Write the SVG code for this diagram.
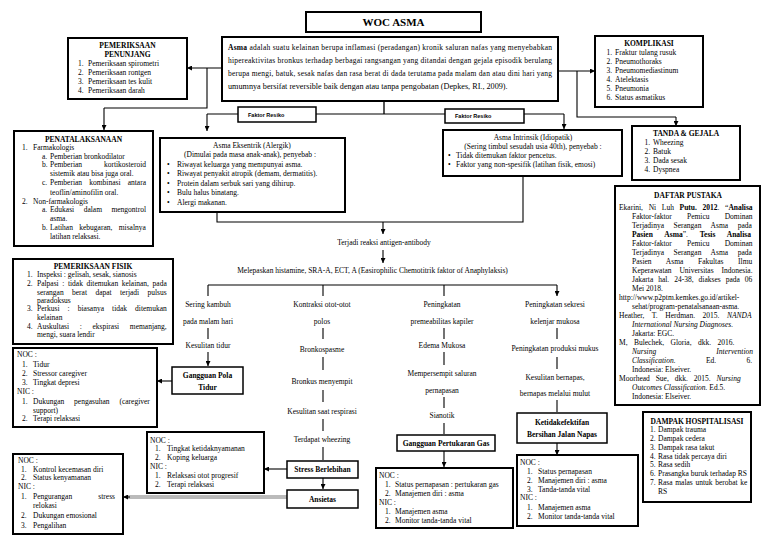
<svg xmlns="http://www.w3.org/2000/svg" width="768" height="543" viewBox="0 0 768 543">
<style>
text{font-family:"Liberation Serif","Times New Roman",serif;font-size:7.5px;fill:#000}
.b{font-weight:bold}
.i{font-style:italic}
.m{text-anchor:middle}
.e{text-anchor:end}
.h{font-weight:bold;text-anchor:middle}
.d{font-size:8px}
.fr{font-family:"Liberation Sans",Arial,sans-serif;font-weight:bold;font-size:5.5px}
.box{fill:#fff;stroke:#000;stroke-width:2}
.sb{fill:#fff;stroke:#000;stroke-width:1.5}
.ln{fill:none;stroke:#000;stroke-width:1.1}
.ar{fill:none;stroke:#000;stroke-width:1.1;marker-end:url(#ah)}
</style>
<defs>
<marker id="ah" viewBox="0 0 6 6" refX="6" refY="3" markerWidth="5" markerHeight="5" markerUnits="userSpaceOnUse" orient="auto"><path d="M0,0L6,3L0,6z" fill="#000"/></marker>
</defs>
<rect width="768" height="543" fill="#fff"/>

<g id="connectors">
<path class="ar" d="M222,68H187"/>
<path class="ln" d="M207,68V108H104"/>
<path class="ar" d="M104,108V130"/>
<path class="ln" d="M384,101V114" style="stroke-width:2;stroke:#555"/>
<path class="ln" d="M207,114H238M316,114H445M524,114H564"/>
<path class="ar" d="M207,114V131"/>
<path class="ar" d="M564,114V129"/>
<path class="ar" d="M558,71H595"/>
<path class="ln" d="M577,71V117H676"/>
<path class="ar" d="M676,117V126"/>
<path class="ln" d="M217,212V222H523V176"/>
<path class="ar" d="M383,222V234"/>
<path class="ar" d="M383,250V263"/>
<path class="ln" d="M208,285H557"/>
<path class="ar" d="M208,285V296M323,285V296M444,285V296M557,285V296"/>
<path class="ar" d="M208,328V339M208,352V366"/>
<path class="ar" d="M323,328V339M323,357V370M323,390V402M323,419V431M323,447V460M323,478V489"/>
<path class="ar" d="M444,328V339M444,352V365M444,397V408M444,423V434M444,451V467"/>
<path class="ar" d="M557,328V339M557,357V369M557,400V412M557,443V455"/>
<path class="ar" d="M172,381H157"/>
<path class="ar" d="M287,469H264"/>
<path d="M287,496H127M287,498H127" fill="none" stroke="#666" stroke-width="0.9"/>
<path class="ar" d="M130,497H123"/>
</g>

<g id="title">
<rect class="box" x="306" y="12" width="175" height="20"/>
<text class="h" x="393.5" y="26" style="font-size:11px">WOC ASMA</text>
</g>

<g id="asma-def">
<rect class="box" x="222" y="37" width="336" height="64"/>
<text x="228" y="49.5" textLength="324" lengthAdjust="spacing"><tspan class="b">Asma</tspan> adalah suatu kelainan berupa inflamasi (peradangan) kronik saluran nafas yang menyebabkan</text>
<text x="228" y="62.5" textLength="324" lengthAdjust="spacing">hipereaktivitas bronkus terhadap berbagai rangsangan yang ditandai dengan gejala episodik berulang</text>
<text x="228" y="75.5" textLength="324" lengthAdjust="spacing">berupa mengi, batuk, sesak nafas dan rasa berat di dada terutama pada malam dan atau dini hari yang</text>
<text x="228" y="88.5" style="font-size:8.2px">umumnya bersifat reversible baik dengan atau tanpa pengobatan (Depkes, RI., 2009).</text>
</g>

<g id="pemeriksaan-penunjang">
<rect class="box" x="68" y="38" width="119" height="61"/>
<text class="h" x="127.5" y="48">PEMERIKSAAN</text>
<text class="h" x="127.5" y="57">PENUNJANG</text>
<text x="78" y="65.5">1.</text><text x="88" y="65.5">Pemeriksaan spirometri</text>
<text x="78" y="74.5">2.</text><text x="88" y="74.5">Pemeriksaan rontgen</text>
<text x="78" y="83.5">3.</text><text x="88" y="83.5">Pemeriksaan tes kulit</text>
<text x="78" y="92.5">4.</text><text x="88" y="92.5">Pemeriksaan darah</text>
</g>

<g id="komplikasi">
<rect class="box" x="595" y="36" width="108" height="71"/>
<text class="h" x="649" y="46">KOMPLIKASI</text>
<text x="606.5" y="54.5">1.</text><text x="615" y="54.5">Fraktur tulang rusuk</text>
<text x="606.5" y="63.5">2.</text><text x="615" y="63.5">Pneumothoraks</text>
<text x="606.5" y="72.5">3.</text><text x="615" y="72.5">Pneumomediastinum</text>
<text x="606.5" y="81.5">4.</text><text x="615" y="81.5">Atelektasis</text>
<text x="606.5" y="90.5">5.</text><text x="615" y="90.5">Pneumonia</text>
<text x="606.5" y="99.5">6.</text><text x="615" y="99.5">Status asmatikus</text>
</g>

<g id="tanda-gejala">
<rect class="box" x="632" y="126" width="108" height="54"/>
<text class="h" x="686" y="136">TANDA &amp; GEJALA</text>
<text x="644.5" y="144.5">1.</text><text x="653" y="144.5">Wheezing</text>
<text x="644.5" y="153.5">2.</text><text x="653" y="153.5">Batuk</text>
<text x="644.5" y="162.5">3.</text><text x="653" y="162.5">Dada sesak</text>
<text x="644.5" y="171.5">4.</text><text x="653" y="171.5">Dyspnea</text>
</g>

<g id="faktor-resiko-1">
<rect class="sb" x="238" y="107" width="78" height="15"/>
<text class="fr" x="248" y="116.5">Faktor Resiko</text>
</g>
<g id="faktor-resiko-2">
<rect class="sb" x="445" y="109" width="79" height="14"/>
<text class="fr" x="455" y="118">Faktor Resiko</text>
</g>

<g id="penatalaksanaan">
<rect class="box" x="14" y="131" width="139" height="115"/>
<text class="h" x="83.5" y="142">PENATALAKSANAAN</text>
<text x="22" y="149.5">1.</text><text x="33" y="149.5">Farmakologis</text>
<text x="42" y="158.5">a.</text><text x="50" y="158.5">Pemberian bronkodilator</text>
<text x="42" y="167">b.</text><text x="50" y="167">Pemberian</text><text class="e" x="146" y="167">kortikosteroid</text>
<text x="50" y="175.5">sistemik atau bisa juga oral.</text>
<text x="42" y="185">c.</text><text x="50" y="185" style="word-spacing:5.3px">Pemberian kombinasi antara</text>
<text x="50" y="194.5">teoflin/aminofilin oral.</text>
<text x="22" y="203.5">2.</text><text x="33" y="203.5">Non-farmakologis</text>
<text x="42" y="212">a.</text><text x="50" y="212" style="word-spacing:7.6px">Edukasi dalam mengontrol</text>
<text x="50" y="220.5">asma.</text>
<text x="42" y="229.5">b.</text><text x="50" y="229.5" style="word-spacing:4.5px">Latihan kebugaran, misalnya</text>
<text x="50" y="238.5">latihan relaksasi.</text>
</g>

<g id="asma-eksentrik">
<rect class="box" x="160" y="138" width="185" height="74"/>
<text class="m" x="252" y="147.5">Asma Eksentrik (Alergik)</text>
<text class="m" x="250" y="157">(Dimulai pada masa anak-anak), penyebab :</text>
<text x="167" y="166.5">•</text><text x="177" y="166.5">Riwayat keluarga yang mempunyai asma.</text>
<text x="167" y="176">•</text><text x="177" y="176">Riwayat penyakit atropik (demam, dermatitis).</text>
<text x="167" y="185.5">•</text><text x="177" y="185.5">Protein dalam serbuk sari yang dihirup.</text>
<text x="167" y="195">•</text><text x="177" y="195">Bulu halus binatang.</text>
<text x="167" y="204.5">•</text><text x="177" y="204.5">Alergi makanan.</text>
</g>

<g id="asma-intrinsik">
<rect class="box" x="443" y="130" width="179" height="46"/>
<text class="m" x="533" y="140">Asma Intrinsik (Idiopatik)</text>
<text class="m" x="533" y="149">(Sering timbul sesudah usia 40th), penyebab :</text>
<text x="448" y="158">•</text><text x="456" y="158">Tidak ditemukan faktor pencetus.</text>
<text x="448" y="167">•</text><text x="456" y="167">Faktor yang non-spesifik (latihan fisik, emosi)</text>
</g>

<g id="daftar-pustaka">
<rect class="box" x="615" y="186" width="145" height="219"/>
<text class="h" x="688" y="198">DAFTAR PUSTAKA</text>
<text x="619" y="209.5" style="word-spacing:3.8px">Ekarini, Ni Luh <tspan class="b">Putu. 2012</tspan>. “<tspan class="b">Analisa</tspan></text>
<text x="632" y="218.5" style="word-spacing:13.3px">Faktor-faktor Pemicu Dominan</text>
<text x="632" y="227.5" style="word-spacing:7.7px">Terjadinya Serangan Asma pada</text>
<text x="632" y="236.5" style="word-spacing:10px"><tspan class="b">Pasien Asma</tspan>”. <tspan class="b">Tesis Analisa</tspan></text>
<text x="632" y="245.5" style="word-spacing:13.3px">Faktor-faktor Pemicu Dominan</text>
<text x="632" y="254.5" style="word-spacing:7.7px">Terjadinya Serangan Asma pada</text>
<text x="632" y="263.5" style="word-spacing:12.8px">Pasien Asma Fakultas Ilmu</text>
<text x="632" y="272.5" style="word-spacing:6px">Keperawatan Universitas Indonesia.</text>
<text x="632" y="281.5" style="word-spacing:3.1px">Jakarta hal. 24-38, diakses pada 06</text>
<text x="632" y="290.5">Mei 2018.</text>
<text x="619" y="299.5">http://www.p2ptm.kemkes.go.id/artikel-</text>
<text x="632" y="308.5">sehat/program-penatalsanaan-asma.</text>
<text x="619" y="317.5" style="word-spacing:5.7px">Heather, T. Herdman. 2015. <tspan class="i">NANDA</tspan></text>
<text x="632" y="326.5" class="i">International Nursing Diagnoses.</text>
<text x="632" y="335.5">Jakarta: EGC.</text>
<text x="619" y="344.5" style="word-spacing:4.5px">M, Bulechek, Gloria, dkk. 2016.</text>
<text x="632" y="353.5" class="i">Nursing</text><text x="753" y="353.5" class="i e">Intervention</text>
<text x="632" y="362.5" style="word-spacing:28.5px"><tspan class="i">Classification.</tspan> Ed. 6.</text>
<text x="632" y="371.5">Indonesia: Elseiver.</text>
<text x="619" y="380.5" style="word-spacing:4px">Moorhead Sue, dkk. 2015. <tspan class="i">Nursing</tspan></text>
<text x="632" y="389.5"><tspan class="i">Outcomes Classification.</tspan> Ed.5.</text>
<text x="632" y="398.5">Indonesia: Elseiver.</text>
</g>

<g id="pemeriksaan-fisik">
<rect class="box" x="13" y="259" width="160" height="85"/>
<text class="h" x="93" y="269">PEMERIKSAAN FISIK</text>
<text x="27" y="276.5">1.</text><text x="37" y="276.5">Inspeksi : gelisah, sesak, sianosis</text>
<text x="27" y="285.5">2.</text><text x="37" y="285.5" style="word-spacing:1.7px">Palpasi : tidak ditemukan kelainan, pada</text>
<text x="37" y="294.5" style="word-spacing:6.5px">serangan berat dapat terjadi pulsus</text>
<text x="37" y="302.5">paradoksus</text>
<text x="27" y="310.5">3.</text><text x="37" y="310.5" style="word-spacing:6.2px">Perkusi : biasanya tidak ditemukan</text>
<text x="37" y="319.5">kelainan</text>
<text x="27" y="328.5">4.</text><text x="37" y="328.5" style="word-spacing:8.8px">Auskultasi : ekspirasi memanjang,</text>
<text x="37" y="336.5">mengi, suara lendir</text>
</g>

<g id="terjadi-reaksi">
<text class="m" x="384" y="245">Terjadi reaksi antigen-antibody</text>
</g>
<g id="melepaskan">
<text class="m" x="372.5" y="272.5">Melepaskan histamine, SRA-A, ECT, A (Easirophilic Chemotitrik faktor of Anaphylaksis)</text>
</g>

<g id="sering-kambuh"><text class="m" x="208" y="307">Sering kambuh</text><text class="m" x="208" y="324">pada malam hari</text></g>
<g id="kesulitan-tidur"><text class="m" x="208" y="348">Kesulitan tidur</text></g>
<g id="gangguan-pola-tidur">
<rect class="sb" x="172" y="367" width="71" height="27"/>
<text class="h" x="207.5" y="377.5">Gangguan Pola</text>
<text class="h" x="207.5" y="390">Tidur</text>
</g>

<g id="kontraksi"><text class="m" x="322" y="307">Kontraksi otot-otot</text><text class="m" x="322" y="324">polos</text></g>
<g id="bronkospasme"><text class="m" x="322" y="351.5">Bronkospasme</text></g>
<g id="bronkus-menyempit"><text class="m" x="322" y="383.5">Bronkus menyempit</text></g>
<g id="kesulitan-respirasi"><text class="m" x="322" y="413.5">Kesulitan saat respirasi</text></g>
<g id="terdapat-wheezing"><text class="m" x="322" y="442">Terdapat wheezing</text></g>
<g id="stress-berlebihan">
<rect class="sb" x="287" y="461" width="71" height="17"/>
<text class="h" x="322.5" y="472">Stress Berlebihan</text>
</g>
<g id="ansietas">
<rect class="sb" x="287" y="490" width="71" height="18"/>
<text class="h" x="322.5" y="501.5">Ansietas</text>
</g>

<g id="peningkatan-permeabilitas"><text class="m" x="442" y="307">Peningkatan</text><text class="m" x="442" y="324">premeabilitas kapiler</text></g>
<g id="edema-mukosa"><text class="m" x="442" y="347.5">Edema Mukosa</text></g>
<g id="mempersempit"><text class="m" x="442" y="375.5">Mempersempit saluran</text><text class="m" x="442" y="392.5">pernapasan</text></g>
<g id="sianotik"><text class="m" x="442" y="417.5">Sianotik</text></g>
<g id="gangguan-pertukaran-gas">
<rect class="sb" x="397" y="435" width="98" height="16"/>
<text class="h" x="446" y="445.5">Gangguan Pertukaran Gas</text>
</g>

<g id="peningkatan-sekresi"><text class="m" x="555" y="307">Peningkatan sekresi</text><text class="m" x="555" y="324">kelenjar mukosa</text></g>
<g id="peningkatan-mukus"><text class="m" x="555" y="350.5">Peningkatan produksi mukus</text></g>
<g id="kesulitan-bernapas"><text class="m" x="555" y="379.5">Kesulitan bernapas,</text><text class="m" x="555" y="395.5">bernapas melalui mulut</text></g>
<g id="ketidakefektifan">
<rect class="sb" x="517" y="413" width="90" height="30"/>
<text class="h" x="562" y="424.5">Ketidakefektifan</text>
<text class="h" x="562" y="437">Bersihan Jalan Napas</text>
</g>

<g id="noc-tidur">
<rect class="box" x="13" y="348" width="144" height="79"/>
<text x="17" y="356.5">NOC :</text>
<text x="22" y="366.5">1.</text><text x="33" y="366.5">Tidur</text>
<text x="22" y="375.5">2.</text><text x="33" y="375.5">Stressor caregiver</text>
<text x="22" y="384.5">3.</text><text x="33" y="384.5">Tingkat depresi</text>
<text x="17" y="393.5">NIC :</text>
<text x="22" y="403.5">1.</text><text x="33" y="403.5" style="word-spacing:8px">Dukungan pengasuhan (caregiver</text>
<text x="33" y="412.5">support)</text>
<text x="22" y="421">2.</text><text x="33" y="421">Terapi relaksasi</text>
</g>

<g id="noc-stress">
<rect class="box" x="147" y="432" width="117" height="61"/>
<text x="150" y="442.5">NOC :</text>
<text x="155" y="451">1.</text><text x="167" y="451">Tingkat ketidaknyamanan</text>
<text x="155" y="460">2.</text><text x="167" y="460">Koping keluarga</text>
<text x="150" y="468.5">NIC :</text>
<text x="155" y="477.5">1.</text><text x="167" y="477.5">Relaksasi otot progresif</text>
<text x="155" y="486.5">2.</text><text x="167" y="486.5">Terapi relaksasi</text>
</g>

<g id="noc-ansietas">
<rect class="box" x="13" y="454" width="110" height="80"/>
<text x="18" y="463">NOC :</text>
<text x="21" y="471.5">1.</text><text x="33" y="471.5">Kontrol kecemasan diri</text>
<text x="21" y="480">2.</text><text x="33" y="480">Status kenyamanan</text>
<text x="18" y="489">NIC :</text>
<text x="21" y="498.5">1.</text><text x="33" y="498.5">Pengurangan</text><text class="e" x="115" y="498.5">stress</text>
<text x="33" y="508">relokasi</text>
<text x="21" y="517.5">2.</text><text x="33" y="517.5">Dukungan emosional</text>
<text x="21" y="527.5">3.</text><text x="33" y="527.5">Pengalihan</text>
</g>

<g id="noc-gas">
<rect class="box" x="376" y="468" width="137" height="60"/>
<text x="379" y="477.5">NOC :</text>
<text x="385" y="487">1.</text><text x="395" y="487">Status pernapasan : pertukaran gas</text>
<text x="385" y="495.5">2.</text><text x="395" y="495.5">Manajemen diri : asma</text>
<text x="379" y="504.5">NIC :</text>
<text x="385" y="514">1.</text><text x="395" y="514">Manajemen asma</text>
<text x="385" y="522.5">2.</text><text x="395" y="522.5">Monitor tanda-tanda vital</text>
</g>

<g id="noc-jalan-napas">
<rect class="box" x="517" y="455" width="121" height="71"/>
<text x="520" y="464.5">NOC :</text>
<text x="527" y="474">1.</text><text x="538" y="474">Status pernapasan</text>
<text x="527" y="483">2.</text><text x="538" y="483">Manajemen diri : asma</text>
<text x="527" y="491.5">3.</text><text x="538" y="491.5">Tanda-tanda vital</text>
<text x="520" y="499.5">NIC :</text>
<text x="527" y="509.5">1.</text><text x="538" y="509.5">Manajemen asma</text>
<text x="527" y="518.5">2.</text><text x="538" y="518.5">Monitor tanda-tanda vital</text>
</g>

<g id="dampak-hospitalisasi">
<rect class="box" x="643" y="412" width="108" height="90"/>
<text class="h" x="697" y="423.5">DAMPAK HOSPITALISASI</text>
<text x="650" y="431.5">1.</text><text x="658" y="431.5">Dampak trauma</text>
<text x="650" y="440.5">2.</text><text x="658" y="440.5">Dampak cedera</text>
<text x="650" y="449.5">3.</text><text x="658" y="449.5">Dampak rasa takut</text>
<text x="650" y="458.5">4.</text><text x="658" y="458.5">Rasa tidak percaya diri</text>
<text x="650" y="467">5.</text><text x="658" y="467">Rasa sedih</text>
<text x="650" y="476">6.</text><text x="658" y="476">Prasangka buruk terhadap RS</text>
<text x="650" y="484.5">7.</text><text x="658" y="484.5" style="word-spacing:0.8px">Rasa malas untuk berobat ke</text>
<text x="658" y="493.5">RS</text>
</g>
</svg>
